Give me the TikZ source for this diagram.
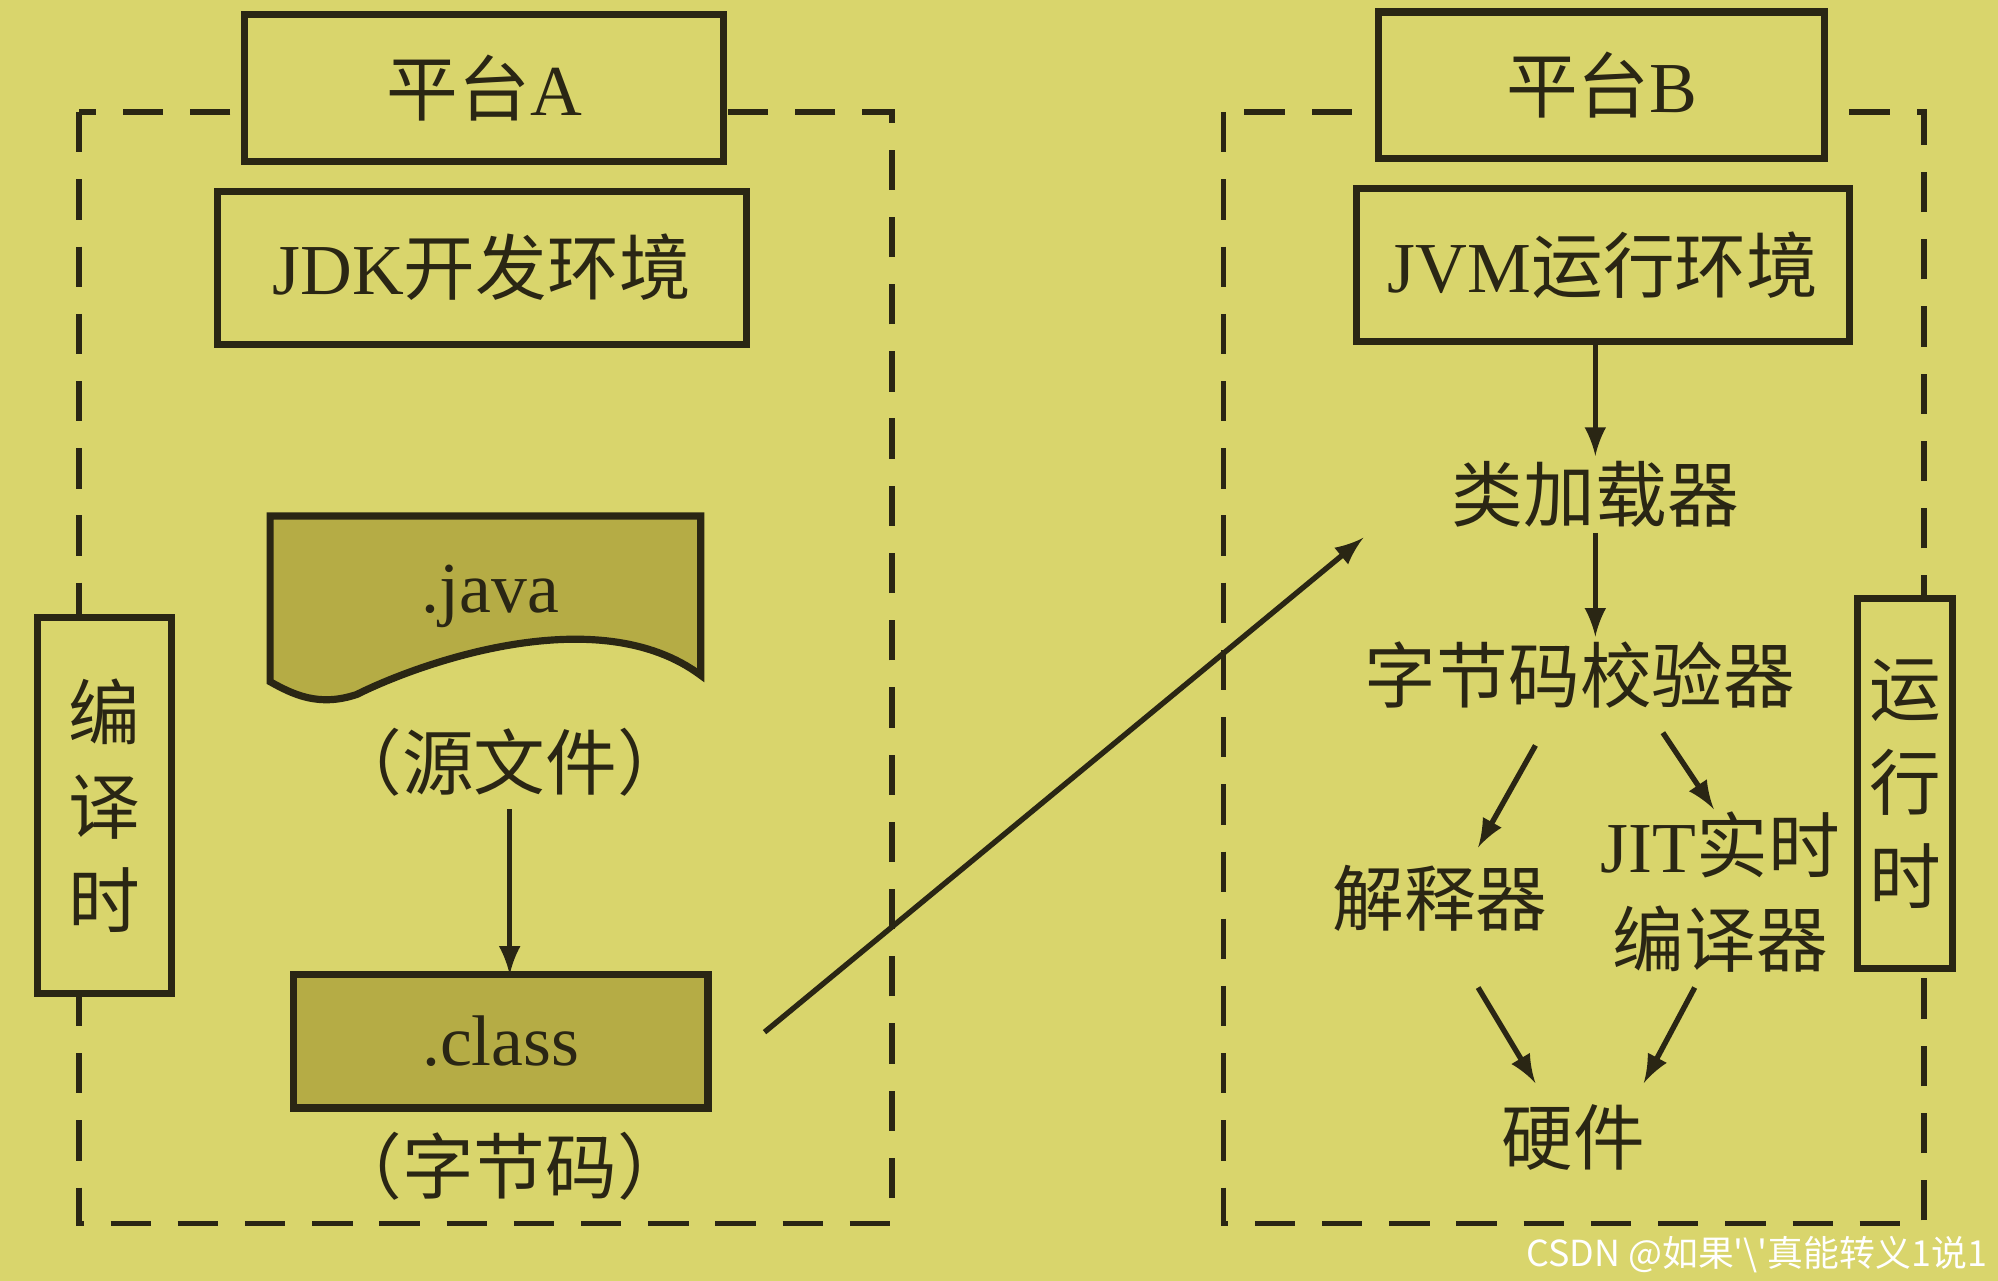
\documentclass[tikz,border=0pt]{standalone}
\usepackage{fontspec}
\setmainfont{Liberation Serif}
\newfontfamily\cjk{Noto Sans CJK SC}
\definecolor{paper}{HTML}{D9D56C}
\definecolor{olive}{HTML}{B5AC45}
\definecolor{ink}{HTML}{2A2614}
\newcommand{\lat}[1]{{\rmfamily #1}}
\begin{document}
\begin{tikzpicture}[x=0.01cm,y=-0.01cm,
  box/.style={draw=ink,line width=1.6pt,inner sep=0pt},
  lbl/.style={inner sep=1pt,text=ink,font=\fontsize{16}{21}\selectfont\cjk},
  arr/.style={->,>=latex,draw=ink,line width=1.2pt},
  frame/.style={draw=ink,dashed,dash pattern=on 9pt off 6pt,line width=1.2pt}]
\fill[paper] (0,0) rectangle (1568,1005);
\useasboundingbox (0,0) rectangle (1568,1005);
% dashed frames
\draw[frame] (62,88) rectangle (700,960);
\draw[frame] (960,88) rectangle (1510,960);
% platform A
\node[box,fill=paper,lbl,minimum width=3.76cm,minimum height=1.15cm] (platA) at (380,69) {平台\lat{A}};
\node[box,fill=paper,lbl,minimum width=4.15cm,minimum height=1.2cm] (jdk) at (378,210) {\lat{JDK}开发环境};
\draw[box,fill=olive] (212,405) -- (550,405) -- (550,530)
  .. controls (470,470) and (330,520) .. (280,545)
  .. controls (250,555) and (230,545) .. (212,535) -- cycle;
\node[lbl] (java) at (385,468) {\lat{.java}};
\node[lbl] (src) at (400,598) {（源文件）};
\node[box,fill=olive,lbl,minimum width=3.25cm,minimum height=1.05cm] (cls) at (393,817) {\lat{.class}};
\node[lbl] (bc) at (400,915) {（字节码）};
\draw[arr] (400,635) -- (400,765);
\node[box,fill=paper,lbl,minimum width=1.05cm,minimum height=2.95cm,align=center] (comp) at (82,632) {编\\译\\时};
% platform B
\node[box,fill=paper,lbl,minimum width=3.5cm,minimum height=1.15cm] (platB) at (1257,67) {平台\lat{B}};
\node[box,fill=paper,lbl,minimum width=3.87cm,minimum height=1.2cm] (jvm) at (1258,208) {\lat{JVM}运行环境};
\node[lbl] (load) at (1252,388) {类加载器};
\node[lbl] (verify) at (1240,530) {字节码校验器};
\node[lbl] (interp) at (1130,705) {解释器};
\node[lbl,align=center] (jit) at (1350,700) {\lat{JIT}实时\\编译器};
\node[lbl] (hw) at (1235,893) {硬件};
\node[box,fill=paper,lbl,minimum width=0.74cm,minimum height=2.9cm,align=center] (run) at (1495,615) {运\\行\\时};
\draw[arr] (jvm.south -| load.north) -- (load.north);
\draw[arr] (load.south) -- (load.south |- verify.north);
\draw[arr] (1205,585) -- (1160,665);
\draw[arr] (1305,575) -- (1345,635);
\draw[arr] (1160,775) -- (1205,850);
\draw[arr] (1330,775) -- (1290,850);
\draw[arr] (600,810) -- (1070,422);
\node[inner sep=0pt,text=white,font=\fontsize{8}{9}\selectfont\cjk,anchor=south east] (mark) at (1560,1000) {CSDN @如果'\textbackslash'真能转义1说1};
\end{tikzpicture}
\end{document}
